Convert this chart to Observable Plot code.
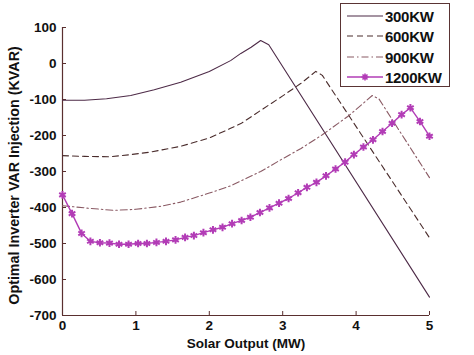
<!DOCTYPE html>
<html>
<head>
<meta charset="utf-8">
<script src="https://cdn.jsdelivr.net/npm/d3@7"></script>
<script src="https://cdn.jsdelivr.net/npm/@observablehq/plot@0.6"></script>
<style>
  html, body { margin: 0; padding: 0; background: #fff; }
  #wrap { position: relative; width: 474px; height: 355px; font-family: "Liberation Sans", Arial, sans-serif; }
  #wrap svg { font-family: "Liberation Sans", Arial, sans-serif; font-weight: bold; }
  #legend { position: absolute; left: 340px; top: 3px; width: 110px; height: 84px; border: 1px solid #5a3434; background: #fff; box-sizing: border-box; }
  .row { position: absolute; left: 0; height: 20px; display: flex; align-items: center; }
  .row span { font-weight: bold; font-size: 15px; color: #111; margin-left: 2px; letter-spacing: -0.3px; }
</style>
</head>
<body>
<div id="wrap">
  <div id="legend"></div>
</div>
<script>
// Tick labels
const xTicks = [0, 1, 2, 3, 4, 5];
const yTicks = [100, 0, -100, -200, -300, -400, -500, -600, -700];

// Axis titles
const xTitle = "Solar Output (MW)";
const yTitle = "Optimal Inverter VAR Injection (KVAR)";

// Series names
const seriesNames = ["300KW", "600KW", "900KW", "1200KW"];

// 300KW
const x300 = [0, 0.3, 0.6, 0.93, 1.25, 1.61, 2.0, 2.29, 2.43, 2.57, 2.70, 2.81, 5.0];
const y300 = [-102, -102, -98, -89, -73, -52, -22, 8, 28, 45, 64, 52, -649];

// 600KW
const x600 = [0, 0.3, 0.65, 0.93, 1.2, 1.61, 2.0, 2.29, 2.43, 2.74, 3.0, 3.25, 3.45, 3.54, 5.0];
const y600 = [-256, -258, -259, -253, -246, -230, -207, -180, -167, -125, -90, -55, -22, -33, -484];

// 900KW
const x900 = [0, 0.35, 0.7, 1.0, 1.33, 1.61, 2.0, 2.29, 2.7, 2.97, 3.25, 3.54, 3.9, 4.22, 4.31, 5.0];
const y900 = [-395, -402, -408, -405, -397, -385, -360, -340, -300, -268, -236, -198, -145, -89, -98, -317];

// 1200KW
const x1200 = [0, 0.13, 0.26, 0.38, 0.51, 0.64, 0.77, 0.90, 1.03, 1.15, 1.28, 1.41, 1.54, 1.67, 1.79, 1.92,
  2.05, 2.18, 2.31, 2.44, 2.56, 2.69, 2.82, 2.95, 3.08, 3.21, 3.33, 3.46, 3.59, 3.72, 3.85, 3.97,
  4.10, 4.23, 4.36, 4.49, 4.62, 4.74, 4.87, 5.0];
const y1200 = [-365, -417, -472, -494, -498, -499, -502, -502, -500, -500, -497, -494, -490, -483, -478, -470,
  -462, -455, -445, -436, -427, -414, -401, -388, -375, -359, -344, -330, -312, -293, -274, -253,
  -232, -212, -189, -166, -142, -123, -161, -202];

const styles = {
  "300KW":  {stroke: "#4d2a47", dash: null, width: 1.1},
  "600KW":  {stroke: "#4a2c2c", dash: "6,4", width: 1.1},
  "900KW":  {stroke: "#8a5a64", dash: "7,3,1.5,3", width: 1.1},
  "1200KW": {stroke: "#b23cb6", dash: null, width: 1.4}
};

const toRows = (xs, ys) => xs.map((x, i) => ({x, y: ys[i]}));
const d300 = toRows(x300, y300);
const d600 = toRows(x600, y600);
const d900 = toRows(x900, y900);
const d1200 = toRows(x1200, y1200);

const axisColor = "#5a2f2f";

const chart = Plot.plot({
  width: 474,
  height: 355,
  marginLeft: 62,
  marginRight: 45,
  marginTop: 27,
  marginBottom: 40,
  style: {background: "transparent", fontSize: "13.5px", color: "#111"},
  x: {domain: [0, 5]},
  y: {domain: [-700, 100]},
  marks: [
    Plot.ruleX([0], {stroke: axisColor, strokeWidth: 1.2}),
    Plot.ruleY([-700], {stroke: axisColor, strokeWidth: 1.2}),
    Plot.axisX({ticks: xTicks, tickSize: -4, tickPadding: 9, stroke: axisColor, fontSize: 13.5,
      label: null, tickFormat: d => String(d)}),
    Plot.axisY({ticks: yTicks, tickSize: -4, tickPadding: 10, stroke: axisColor, fontSize: 13.5,
      label: null, tickFormat: d => String(d)}),
    Plot.text([xTitle], {frameAnchor: "bottom", lineAnchor: "middle", dy: 28, fontSize: 13.5, fontWeight: "bold", fill: "#111"}),
    Plot.text([yTitle], {frameAnchor: "left", textAnchor: "middle", lineAnchor: "middle", dx: -48, dy: 4, rotate: -90, fontSize: 14.3, fontWeight: "bold", fill: "#111"}),
    Plot.line(d300, {x: "x", y: "y", stroke: styles["300KW"].stroke, strokeWidth: styles["300KW"].width}),
    Plot.line(d600, {x: "x", y: "y", stroke: styles["600KW"].stroke, strokeWidth: styles["600KW"].width, strokeDasharray: styles["600KW"].dash}),
    Plot.line(d900, {x: "x", y: "y", stroke: styles["900KW"].stroke, strokeWidth: styles["900KW"].width, strokeDasharray: styles["900KW"].dash}),
    Plot.line(d1200, {x: "x", y: "y", stroke: styles["1200KW"].stroke, strokeWidth: styles["1200KW"].width}),
    Plot.dot(d1200, {x: "x", y: "y", symbol: "asterisk", r: 3.6, stroke: styles["1200KW"].stroke, strokeWidth: 2})
  ]
});
chart.style.position = "absolute";
chart.style.left = "0";
chart.style.top = "0";
document.getElementById("wrap").prepend(chart);

// Legend
const legend = document.getElementById("legend");
const rowTops = [2, 22, 43, 63];
seriesNames.forEach((name, i) => {
  const s = styles[name];
  const row = document.createElement("div");
  row.className = "row";
  row.style.top = rowTops[i] + "px";
  const svgNS = "http://www.w3.org/2000/svg";
  const svg = document.createElementNS(svgNS, "svg");
  svg.setAttribute("width", "42");
  svg.setAttribute("height", "20");
  const line = document.createElementNS(svgNS, "line");
  line.setAttribute("x1", "6"); line.setAttribute("x2", "42");
  line.setAttribute("y1", "10"); line.setAttribute("y2", "10");
  line.setAttribute("stroke", s.stroke);
  line.setAttribute("stroke-width", s.width);
  if (s.dash) line.setAttribute("stroke-dasharray", s.dash);
  svg.appendChild(line);
  if (name === "1200KW") {
    const g = document.createElementNS(svgNS, "path");
    g.setAttribute("d", "M24,6.5V13.5M20.5,10H27.5M21.5,7.5L26.5,12.5M26.5,7.5L21.5,12.5");
    g.setAttribute("stroke", s.stroke);
    g.setAttribute("stroke-width", "1.6");
    svg.appendChild(g);
  }
  row.appendChild(svg);
  const label = document.createElement("span");
  label.textContent = name;
  row.appendChild(label);
  legend.appendChild(row);
});
</script>
</body>
</html>
